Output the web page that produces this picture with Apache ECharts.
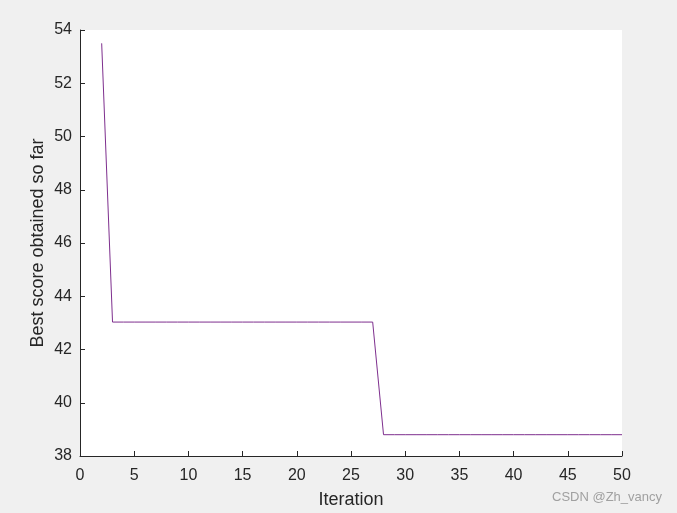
<!DOCTYPE html>
<html><head><meta charset="utf-8">
<script src="https://cdn.jsdelivr.net/npm/echarts@6/dist/echarts.min.js"></script>
<style>html,body{margin:0;padding:0;background:#f0f0f0;}#c{width:677px;height:513px;}</style>
</head><body><div id="c"></div>
<script>
var iterations = [2,3,4,5,6,7,8,9,10,11,12,13,14,15,16,17,18,19,20,21,22,23,24,25,26,27,28,29,30,31,32,33,34,35,36,37,38,39,40,41,42,43,44,45,46,47,48,49,50];
var bestScore = [53.5,43.03,43.03,43.03,43.03,43.03,43.03,43.03,43.03,43.03,43.03,43.03,43.03,43.03,43.03,43.03,43.03,43.03,43.03,43.03,43.03,43.03,43.03,43.03,43.03,43.03,38.8,38.8,38.8,38.8,38.8,38.8,38.8,38.8,38.8,38.8,38.8,38.8,38.8,38.8,38.8,38.8,38.8,38.8,38.8,38.8,38.8,38.8,38.8];
var xLabel = 'Iteration';
var yLabel = 'Best score obtained so far';
var watermark = 'CSDN @Zh_vancy';

var data = iterations.map(function(x,i){return [x,bestScore[i]];});
var chart = echarts.init(document.getElementById('c'));
var axisColor = '#262626';
var font = 'Liberation Sans, Arial, sans-serif';
chart.setOption({
  backgroundColor: '#f0f0f0',
  animation: false,
  grid: {left: 80, right: 55, top: 30, bottom: 57, backgroundColor: '#ffffff', show: true, borderWidth: 0, containLabel: false, outerBoundsMode: 'none'},
  xAxis: {
    type: 'value', min: 0, max: 50, interval: 5,
    name: xLabel, nameLocation: 'middle', nameGap: 35, nameMoveOverlap: false,
    nameTextStyle: {color: axisColor, fontSize: 18, fontFamily: font},
    axisLine: {show: true, onZero: false, lineStyle: {color: axisColor, width: 1}},
    axisTick: {show: true, inside: true, length: 5, lineStyle: {color: axisColor}},
    axisLabel: {color: axisColor, fontSize: 16, fontFamily: font, margin: 12},
    splitLine: {show: false}
  },
  yAxis: {
    type: 'value', min: 38, max: 54, interval: 2,
    name: yLabel, nameLocation: 'middle', nameGap: 33, nameMoveOverlap: false,
    nameTextStyle: {color: axisColor, fontSize: 18, fontFamily: font},
    axisLine: {show: true, onZero: false, lineStyle: {color: axisColor, width: 1}},
    axisTick: {show: true, inside: true, length: 5, lineStyle: {color: axisColor}},
    axisLabel: {color: axisColor, fontSize: 16, fontFamily: font, margin: 8},
    splitLine: {show: false}
  },
  series: [{
    type: 'line', data: data, showSymbol: false, symbol: 'none',
    lineStyle: {color: '#7E2F8E', width: 1}
  }],
  graphic: [{
    type: 'text', right: 15, bottom: 9,
    style: {text: watermark, fill: '#a0a0a0', font: '13px ' + font}
  }]
});
</script></body></html>
